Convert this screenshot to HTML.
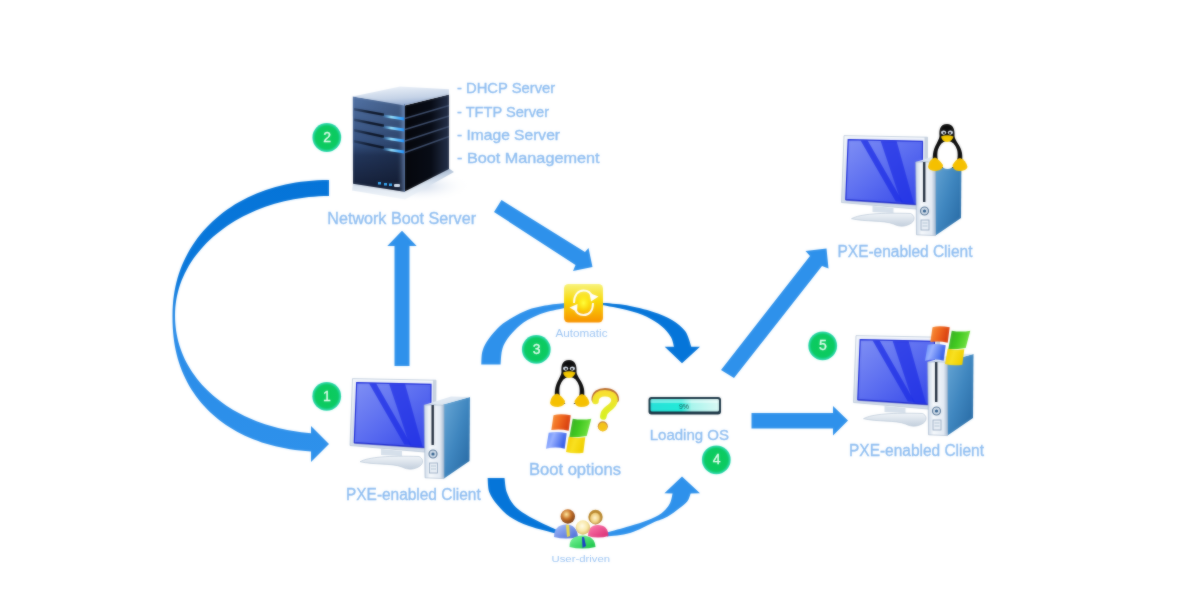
<!DOCTYPE html>
<html><head><meta charset="utf-8"><style>
html,body{margin:0;padding:0;background:#fff;width:1200px;height:600px;overflow:hidden}
svg{display:block}
</style></head><body>
<svg width="1200" height="600" viewBox="0 0 1200 600">
<defs>
<filter id="soft" x="0" y="0" width="1200" height="600" filterUnits="userSpaceOnUse" color-interpolation-filters="sRGB">
 <feGaussianBlur in="SourceGraphic" stdDeviation="0.9" result="b"/>
 <feComposite in="SourceGraphic" in2="b" operator="arithmetic" k1="0" k2="0.5" k3="0.5" k4="0"/>
</filter>
<radialGradient id="badgeG" cx="0.5" cy="0.5" r="0.5">
 <stop offset="0" stop-color="#0acb5a"/><stop offset="0.78" stop-color="#0cca62"/><stop offset="1" stop-color="#2cd8b4"/>
</radialGradient>
<linearGradient id="gLeft" x1="0" y1="180" x2="0" y2="460" gradientUnits="userSpaceOnUse">
 <stop offset="0" stop-color="#0574d8"/><stop offset="0.35" stop-color="#0a78db"/><stop offset="0.55" stop-color="#2a8ce8"/><stop offset="1" stop-color="#2e91eb"/>
</linearGradient>

<linearGradient id="srvFront" x1="0" y1="0" x2="0" y2="1">
 <stop offset="0" stop-color="#5272a4"/><stop offset="0.5" stop-color="#34507e"/><stop offset="0.62" stop-color="#22355a"/><stop offset="1" stop-color="#141e36"/>
</linearGradient>
<linearGradient id="srvFrontH" x1="0" y1="0" x2="1" y2="0">
 <stop offset="0" stop-color="#000" stop-opacity="0"/><stop offset="0.85" stop-color="#000" stop-opacity="0.15"/><stop offset="1" stop-color="#8fb0e0" stop-opacity="0.5"/>
</linearGradient>
<linearGradient id="srvTop" x1="0" y1="0" x2="0.3" y2="1">
 <stop offset="0" stop-color="#f0f5fb"/><stop offset="0.7" stop-color="#c4d2e6"/><stop offset="1" stop-color="#9fb4d6"/>
</linearGradient>
<linearGradient id="srvSide" x1="0" y1="0" x2="1" y2="0">
 <stop offset="0" stop-color="#05070c"/><stop offset="0.6" stop-color="#080c16"/><stop offset="1" stop-color="#24304a"/>
</linearGradient>
<radialGradient id="srvBase" cx="0.5" cy="0.5" r="0.5">
 <stop offset="0" stop-color="#b8c8e0"/><stop offset="1" stop-color="#fff" stop-opacity="0"/>
</radialGradient>
<linearGradient id="srvPlate" x1="0" y1="0" x2="0" y2="1">
 <stop offset="0" stop-color="#aebfd6"/><stop offset="0.5" stop-color="#d8e2ee"/><stop offset="1" stop-color="#f2f6fa"/>
</linearGradient>
<linearGradient id="groove" x1="0" y1="0" x2="1" y2="0">
 <stop offset="0" stop-color="#0c1424" stop-opacity="0.35"/><stop offset="0.5" stop-color="#0c1424" stop-opacity="0.9"/><stop offset="1" stop-color="#0c1424"/>
</linearGradient>
<linearGradient id="blueHL" x1="0" y1="0" x2="1" y2="0">
 <stop offset="0" stop-color="#3aa8ff" stop-opacity="0"/><stop offset="0.4" stop-color="#9be4ff"/><stop offset="1" stop-color="#1a90ff"/>
</linearGradient>

<linearGradient id="scr" x1="0" y1="0" x2="1" y2="1">
 <stop offset="0" stop-color="#8090f4"/><stop offset="0.5" stop-color="#5a6cf0"/><stop offset="1" stop-color="#3446e8"/>
</linearGradient>
<linearGradient id="bezel" x1="0" y1="0" x2="0" y2="1">
 <stop offset="0" stop-color="#f4f7fb"/><stop offset="1" stop-color="#cdd8e6"/>
</linearGradient>
<linearGradient id="towSide" x1="0" y1="0" x2="1" y2="1">
 <stop offset="0" stop-color="#6aa8d6"/><stop offset="0.5" stop-color="#3f86bf"/><stop offset="1" stop-color="#2466a0"/>
</linearGradient>
<linearGradient id="towFront" x1="0" y1="0" x2="1" y2="0">
 <stop offset="0" stop-color="#c9d6e6"/><stop offset="0.3" stop-color="#f6f9fc"/><stop offset="0.8" stop-color="#e3eaf3"/><stop offset="1" stop-color="#a9bcd3"/>
</linearGradient>
<linearGradient id="stand" x1="0" y1="0" x2="0" y2="1">
 <stop offset="0" stop-color="#f0f4f8"/><stop offset="1" stop-color="#c3cfdd"/>
</linearGradient>

<linearGradient id="wO" x1="0" y1="0" x2="1" y2="0.3">
 <stop offset="0" stop-color="#f89840"/><stop offset="0.5" stop-color="#f06a20"/><stop offset="1" stop-color="#d84010"/>
</linearGradient>
<linearGradient id="wG" x1="0" y1="0" x2="1" y2="0.3">
 <stop offset="0" stop-color="#38a828"/><stop offset="0.5" stop-color="#40c820"/><stop offset="1" stop-color="#70e040"/>
</linearGradient>
<linearGradient id="wB" x1="0" y1="0" x2="1" y2="0.3">
 <stop offset="0" stop-color="#5c88f8"/><stop offset="0.4" stop-color="#98b0ff"/><stop offset="1" stop-color="#3860e8"/>
</linearGradient>
<linearGradient id="wY" x1="0" y1="0" x2="1" y2="0.3">
 <stop offset="0" stop-color="#f0c800"/><stop offset="0.5" stop-color="#f8e020"/><stop offset="1" stop-color="#f0d000"/>
</linearGradient>
<linearGradient id="qG" x1="0" y1="0" x2="0" y2="1">
 <stop offset="0" stop-color="#f8e030"/><stop offset="1" stop-color="#d8f020"/>
</linearGradient>
<linearGradient id="autoG" x1="0" y1="0" x2="0" y2="1">
 <stop offset="0" stop-color="#f7f27a"/><stop offset="0.45" stop-color="#f8d808"/><stop offset="1" stop-color="#f89200"/>
</linearGradient>
<radialGradient id="autoGlow" cx="0.5" cy="0.5" r="0.5">
 <stop offset="0" stop-color="#ffff40"/><stop offset="1" stop-color="#ffe000" stop-opacity="0"/>
</radialGradient>
<linearGradient id="barG" x1="0" y1="0" x2="1" y2="0">
 <stop offset="0" stop-color="#28e0d8"/><stop offset="0.45" stop-color="#22ead8"/><stop offset="0.6" stop-color="#a8f4ec"/><stop offset="1" stop-color="#d8f8f4"/>
</linearGradient>
<radialGradient id="headG" cx="0.4" cy="0.35" r="0.65">
 <stop offset="0" stop-color="#ffe8a0"/><stop offset="0.5" stop-color="#c8742a"/><stop offset="1" stop-color="#7a3a10"/>
</radialGradient>
<radialGradient id="headY" cx="0.45" cy="0.4" r="0.6">
 <stop offset="0" stop-color="#fffbe8"/><stop offset="0.6" stop-color="#f8e8a8"/><stop offset="1" stop-color="#d8b860"/>
</radialGradient>
<radialGradient id="headP" cx="0.45" cy="0.45" r="0.6">
 <stop offset="0" stop-color="#fff4d0"/><stop offset="0.6" stop-color="#f0d080"/><stop offset="1" stop-color="#a87830"/>
</radialGradient>
<linearGradient id="shirtB" x1="0" y1="0" x2="1" y2="1">
 <stop offset="0" stop-color="#a8c0f8"/><stop offset="1" stop-color="#4868d8"/>
</linearGradient>
<linearGradient id="shirtP" x1="0" y1="0" x2="1" y2="1">
 <stop offset="0" stop-color="#ff80b0"/><stop offset="1" stop-color="#d82870"/>
</linearGradient>
<linearGradient id="shirtG" x1="0" y1="0" x2="1" y2="1">
 <stop offset="0" stop-color="#80f8a0"/><stop offset="1" stop-color="#10c040"/>
</linearGradient>

<g id="client">
 <!-- monitor bezel -->
 <polygon points="2.5,0.6 86,2.2 85.5,75 0,67.5" fill="url(#bezel)" stroke="#b9c7d8" stroke-width="0.8"/>
 <polygon points="6.7,4.6 81,6.3 80.5,69.5 4.3,64.5" fill="url(#scr)" stroke="#1a2ad8" stroke-width="1.2"/>
 <polygon points="19,5.2 26,5.3 61.3,67 54.3,66.5" fill="#1e2ee4" opacity="0.75"/>
 <polygon points="39,5.5 55,5.8 72.6,69 60,68" fill="#1e2ee4" opacity="0.7"/>
 <polygon points="4.3,64.5 80.5,69.5 80.5,70.7 4,65.8" fill="#1520b8" opacity="0.6"/>
 <!-- stand -->
 <polygon points="31,71 52,73 52,78 31,77" fill="#d5dfea"/>
 <path d="M10,83.7 C18,79 40,77.5 69,78.5 C73,80 74,85 70,88 C64,92 58,92 52,89 C42,85 24,87 10,83.7 Z" fill="url(#stand)" stroke="#b8c6d6" stroke-width="0.7"/>
 <!-- monitor edge behind tower -->
 <rect x="83" y="2" width="3" height="26" fill="#c5d0de"/>
 <!-- tower side -->
 <polygon points="93,26.5 120,19 119.5,83 94,100.6" fill="url(#towSide)"/>
 <polygon points="74.2,27 93,26.5 120,19 101,18.5" fill="#dfe8f2"/>
 <!-- tower front -->
 <polygon points="74.2,27 94,27 94,100.6 75,99.8" fill="url(#towFront)" stroke="#9fb2c8" stroke-width="0.6"/>
 <rect x="81.5" y="27" width="2.4" height="40" fill="#1e2a3a"/>
 <circle cx="83" cy="76" r="4" fill="#cfdbe8" stroke="#5a7898" stroke-width="1.2"/>
 <circle cx="83" cy="76" r="1.6" fill="#2a5a88"/>
 <rect x="79.5" y="85" width="8" height="10" fill="#e9eff6" stroke="#8ea4bc" stroke-width="0.8"/>
 <line x1="81" y1="88" x2="86" y2="88" stroke="#8ea4bc" stroke-width="0.6"/>
 <line x1="81" y1="91" x2="86" y2="91" stroke="#8ea4bc" stroke-width="0.6"/>
</g>

<g id="tux">
 <path d="M19,0 C12,0 11,6 11.5,12 C11,17 6,22 5,30 C4,37 6,42 10,44 L30,44 C34,42 35,36 34,29 C33,22 27,17 26.5,12 C27,5 25,0 19,0 Z" fill="#0c0c0c"/>
 <ellipse cx="19.5" cy="31" rx="10.2" ry="14" fill="#fff"/>
 <ellipse cx="15.6" cy="8.6" rx="2.6" ry="2.1" fill="#dde6f2"/>
 <ellipse cx="22.4" cy="8.6" rx="2.6" ry="2.1" fill="#dde6f2"/>
 <circle cx="16" cy="9" r="1" fill="#111"/>
 <circle cx="22" cy="9" r="1" fill="#111"/>
 <path d="M13,12.5 Q19,10 25.5,12.5 Q24,17.5 19,18 Q14,17.5 13,12.5 Z" fill="#f4c800"/>
 <path d="M0,43 Q1,35 7,33.5 Q11,35 15,41 Q15.5,46 8,47 Q1,47 0,43 Z" fill="#f5c000"/>
 <path d="M24.5,41 Q28,35 32,34 Q38,36 39.5,43 Q38.5,47 31,47 Q24.5,46.5 24.5,41 Z" fill="#f5c000"/>
</g>

<g id="winflag">
 <path d="M7.5,2.3 Q14,0 24.7,2.3 L22.7,17.7 Q14,15.5 5.3,17 Z" fill="url(#wO)"/>
 <path d="M26.7,5.7 Q36,7.5 45.3,5.7 L40.7,23 Q32,24.5 23.3,24.3 Z" fill="url(#wG)"/>
 <path d="M2.7,19.7 Q11,18 20.7,20.3 L18.7,35.7 Q10,33.5 0,35.7 Z" fill="url(#wB)"/>
 <path d="M22.7,23.7 Q31,25.5 39.3,24.3 L37.3,39.7 Q28,41 20,39 Z" fill="url(#wY)"/>
</g>
</defs>
<rect width="1200" height="600" fill="#fff"/>
<g filter="url(#soft)">
<rect width="1200" height="600" fill="#fff"/>
<path d="M329.00,180.00 L322.92,180.09 L317.20,180.31 L311.65,180.67 L306.22,181.17 L300.89,181.80 L295.64,182.57 L290.48,183.47 L285.39,184.51 L280.38,185.67 L275.46,186.97 L270.61,188.40 L265.85,189.96 L261.17,191.65 L256.58,193.46 L252.09,195.40 L247.68,197.46 L243.37,199.64 L239.16,201.94 L235.06,204.36 L231.06,206.90 L227.17,209.55 L223.39,212.30 L219.72,215.17 L216.17,218.15 L212.75,221.22 L209.44,224.40 L206.27,227.68 L203.22,231.05 L200.30,234.52 L197.52,238.08 L194.88,241.73 L192.37,245.46 L190.00,249.28 L187.78,253.17 L185.70,257.14 L183.77,261.19 L181.98,265.32 L180.35,269.51 L178.87,273.77 L177.54,278.11 L176.36,282.51 L175.34,286.98 L174.47,291.52 L173.76,296.14 L173.21,300.84 L172.82,305.65 L172.58,310.62 L172.50,316.00 L172.57,322.16 L172.77,327.41 L173.10,332.35 L173.56,337.09 L174.16,341.69 L174.88,346.16 L175.74,350.53 L176.73,354.79 L177.85,358.97 L179.10,363.07 L180.48,367.08 L181.99,371.00 L183.62,374.85 L185.38,378.62 L187.26,382.30 L189.27,385.91 L191.39,389.43 L193.64,392.87 L196.01,396.23 L198.50,399.50 L201.11,402.69 L203.83,405.79 L206.66,408.80 L209.61,411.72 L212.67,414.55 L215.84,417.28 L219.11,419.92 L222.49,422.47 L225.98,424.92 L229.57,427.27 L233.25,429.52 L237.04,431.67 L240.93,433.72 L244.91,435.66 L248.99,437.50 L253.17,439.24 L257.43,440.86 L261.79,442.38 L266.25,443.79 L270.80,445.09 L275.44,446.29 L280.18,447.37 L285.01,448.33 L289.96,449.19 L295.01,449.93 L300.19,450.56 L305.51,451.08 L311.00,451.48 L311.00,462.00 L329.00,444.00 L311.00,426.00 L311.00,433.27 L306.14,432.83 L301.34,432.28 L296.60,431.62 L291.91,430.87 L287.29,430.01 L282.72,429.05 L278.20,427.98 L273.75,426.82 L269.37,425.56 L265.05,424.19 L260.80,422.73 L256.62,421.18 L252.51,419.53 L248.49,417.78 L244.54,415.94 L240.67,414.01 L236.90,412.00 L233.20,409.89 L229.61,407.70 L226.10,405.42 L222.69,403.06 L219.38,400.62 L216.18,398.11 L213.08,395.51 L210.08,392.84 L207.19,390.10 L204.42,387.28 L201.76,384.40 L199.21,381.45 L196.79,378.44 L194.48,375.37 L192.29,372.23 L190.23,369.04 L188.29,365.79 L186.48,362.49 L184.80,359.13 L183.25,355.73 L181.83,352.28 L180.54,348.78 L179.38,345.24 L178.36,341.66 L177.47,338.03 L176.72,334.36 L176.10,330.64 L175.62,326.87 L175.27,323.05 L175.07,319.13 L175.00,315.00 L175.08,311.12 L175.33,307.25 L175.74,303.38 L176.32,299.53 L177.05,295.69 L177.95,291.88 L179.02,288.09 L180.24,284.32 L181.62,280.59 L183.16,276.90 L184.85,273.25 L186.70,269.64 L188.70,266.08 L190.86,262.57 L193.16,259.12 L195.60,255.72 L198.19,252.39 L200.91,249.13 L203.78,245.93 L206.78,242.81 L209.91,239.77 L213.16,236.80 L216.54,233.92 L220.05,231.13 L223.66,228.42 L227.39,225.81 L231.23,223.29 L235.18,220.86 L239.23,218.54 L243.37,216.32 L247.60,214.21 L251.92,212.20 L256.33,210.30 L260.81,208.51 L265.37,206.84 L269.99,205.28 L274.68,203.84 L279.43,202.51 L284.23,201.31 L289.08,200.22 L293.97,199.26 L298.90,198.42 L303.87,197.70 L308.86,197.11 L313.87,196.65 L318.91,196.31 L323.95,196.09 L329.00,196.00 Z" fill="url(#gLeft)"/>
<polygon points="394.5,366 409.5,366 409.5,246 416.7,246 402,230.7 387.3,246 394.5,246" fill="#2e91eb"/>
<polygon points="501.5,200 585,252 588.5,248 592.5,267 573,271 575.5,265 494,212" fill="#2e91eb"/>
<path d="M481.25,364.4 C481.5,362.2 481.2,355.3 482.5,351.0 C483.8,346.7 485.8,342.9 488.8,338.8 C491.7,334.6 496.0,329.5 500.0,326.0 C504.0,322.5 507.9,320.2 512.5,317.5 C517.1,314.8 522.1,312.0 527.5,310.0 C532.9,308.0 538.8,306.8 545.0,305.6 C551.2,304.4 561.7,303.4 565.0,303.0 L565,308 C561.7,308.8 551.2,310.5 545.0,312.5 C538.8,314.5 532.5,317.1 527.5,320.0 C522.5,322.9 518.6,326.5 515.0,330.0 C511.4,333.5 508.2,337.5 506.0,341.0 C503.8,344.5 502.8,347.1 501.9,351.0 C501.0,354.9 500.8,362.2 500.6,364.4 Z" fill="#2e91eb"/>
<path d="M602,302.7 C606.1,303.1 618.2,303.8 626.7,305.3 C635.2,306.9 645.8,309.6 653.3,312.0 C660.8,314.4 666.7,316.8 672.0,320.0 C677.3,323.2 682.1,326.9 685.3,331.3 C688.5,335.8 690.3,344.1 691.3,346.7 L700,346.7 L682,363.3 L664.7,346.7 L674,346.7 C673.5,345.0 672.8,340.1 670.7,336.7 C668.6,333.2 665.3,329.3 661.3,326.0 C657.3,322.7 652.5,319.4 646.7,316.7 C640.9,314.0 634.2,311.9 626.7,310.0 C619.2,308.1 606.1,305.8 602.0,305.0 Z" fill="#0575d9"/>
<path d="M487.6,478 C487.9,480.4 487.7,487.7 489.3,492.2 C490.9,496.7 494.1,500.9 497.5,505.0 C500.9,509.1 504.6,513.2 509.8,516.7 C515.0,520.2 521.3,523.2 529.0,526.0 C536.7,528.8 551.5,532.2 556.0,533.5 L556,529.5 C553.5,528.3 545.8,525.0 540.7,522.5 C535.6,520.0 530.0,517.2 525.5,514.3 C521.0,511.4 516.9,508.7 513.8,505.0 C510.7,501.3 508.4,496.7 506.8,492.2 C505.2,487.7 504.9,480.4 504.5,478.0 Z" fill="#0575d9"/>
<path d="M607,536.5 C610.8,535.9 622.3,535.3 630.0,533.0 C637.7,530.7 647.1,525.2 653.3,522.5 C659.5,519.8 663.0,519.0 667.3,516.7 C671.6,514.4 675.7,511.0 679.0,508.5 C682.3,506.0 685.2,504.0 687.2,501.5 C689.2,499.0 690.1,494.8 690.7,493.5 L700,493.3 L682,476.4 L664.4,493.3 L672.6,493.5 C672.1,495.2 671.6,500.5 669.7,503.8 C667.9,507.1 665.2,510.5 661.5,513.2 C657.8,515.9 652.8,518.1 647.5,520.2 C642.2,522.3 636.8,524.0 630.0,526.0 C623.2,528.0 610.8,531.4 607.0,532.5 Z" fill="#2e91eb"/>
<polygon points="721,370 734,378 822,266 828.5,268.5 826.5,248.5 805.5,251 810,256" fill="#2e91eb"/>
<polygon points="751.5,413 833,413 833,406 848,420.5 833,435.5 833,428.5 751.5,428.5" fill="#2e91eb"/>
<circle cx="326.8" cy="137.5" r="14.4" fill="url(#badgeG)"/>
<text x="327.1" y="141.8" font-family="Liberation Sans" font-size="14" fill="#eafff4" stroke="#eafff4" stroke-width="0.3" text-anchor="middle">2</text>
<circle cx="326.7" cy="396.3" r="14.4" fill="url(#badgeG)"/>
<text x="327.0" y="400.6" font-family="Liberation Sans" font-size="14" fill="#eafff4" stroke="#eafff4" stroke-width="0.3" text-anchor="middle">1</text>
<circle cx="536.3" cy="349.4" r="14.4" fill="url(#badgeG)"/>
<text x="536.5999999999999" y="353.7" font-family="Liberation Sans" font-size="14" fill="#eafff4" stroke="#eafff4" stroke-width="0.3" text-anchor="middle">3</text>
<circle cx="716.3" cy="459.8" r="14.4" fill="url(#badgeG)"/>
<text x="716.5999999999999" y="464.1" font-family="Liberation Sans" font-size="14" fill="#eafff4" stroke="#eafff4" stroke-width="0.3" text-anchor="middle">4</text>
<circle cx="822.7" cy="345.8" r="14.4" fill="url(#badgeG)"/>
<text x="823.0" y="350.1" font-family="Liberation Sans" font-size="14" fill="#eafff4" stroke="#eafff4" stroke-width="0.3" text-anchor="middle">5</text>
<text x="457" y="92.7" font-family="Liberation Sans" font-size="14.5" fill="#8cbcf0" stroke="#8cbcf0" stroke-width="0.35" textLength="98.2" lengthAdjust="spacingAndGlyphs" >- DHCP Server</text>
<text x="457" y="116.5" font-family="Liberation Sans" font-size="14.5" fill="#8cbcf0" stroke="#8cbcf0" stroke-width="0.35" textLength="92" lengthAdjust="spacingAndGlyphs" >- TFTP Server</text>
<text x="457" y="140" font-family="Liberation Sans" font-size="14.5" fill="#8cbcf0" stroke="#8cbcf0" stroke-width="0.35" textLength="103" lengthAdjust="spacingAndGlyphs" >- Image Server</text>
<text x="457" y="162.8" font-family="Liberation Sans" font-size="14.5" fill="#8cbcf0" stroke="#8cbcf0" stroke-width="0.35" textLength="142.5" lengthAdjust="spacingAndGlyphs" >- Boot Management</text>
<text x="327.3" y="224" font-family="Liberation Sans" font-size="16" fill="#8cbcf0" stroke="#8cbcf0" stroke-width="0.35" textLength="148.7" lengthAdjust="spacingAndGlyphs" >Network Boot Server</text>
<text x="346" y="500.2" font-family="Liberation Sans" font-size="16" fill="#8cbcf0" stroke="#8cbcf0" stroke-width="0.35" textLength="134.7" lengthAdjust="spacingAndGlyphs" >PXE-enabled Client</text>
<text x="837.5" y="256.5" font-family="Liberation Sans" font-size="16" fill="#8cbcf0" stroke="#8cbcf0" stroke-width="0.35" textLength="135" lengthAdjust="spacingAndGlyphs" >PXE-enabled Client</text>
<text x="849" y="455.5" font-family="Liberation Sans" font-size="16" fill="#8cbcf0" stroke="#8cbcf0" stroke-width="0.35" textLength="135" lengthAdjust="spacingAndGlyphs" >PXE-enabled Client</text>
<text x="529" y="474.5" font-family="Liberation Sans" font-size="16" fill="#8cbcf0" stroke="#8cbcf0" stroke-width="0.35" textLength="92" lengthAdjust="spacingAndGlyphs" >Boot options</text>
<text x="649.7" y="439.5" font-family="Liberation Sans" font-size="15.5" fill="#8cbcf0" stroke="#8cbcf0" stroke-width="0.35" textLength="79.3" lengthAdjust="spacingAndGlyphs" >Loading OS</text>
<text x="555.5" y="336.7" font-family="Liberation Sans" font-size="10" fill="#9cc4f2" stroke="#9cc4f2" stroke-width="0" textLength="52" lengthAdjust="spacingAndGlyphs" >Automatic</text>
<text x="551.5" y="562" font-family="Liberation Sans" font-size="9" fill="#9cc4f2" stroke="#9cc4f2" stroke-width="0" textLength="58.5" lengthAdjust="spacingAndGlyphs" >User-driven</text>
<!-- ===== server ===== -->
<ellipse cx="420" cy="186" rx="50" ry="16" fill="url(#srvBase)" opacity="0.7"/>
<polygon points="353,183 404.3,191 449,168.5 454,172 405,199.5 352,190.5" fill="url(#srvPlate)"/>
<polygon points="352.8,96.5 404.6,104.3 404.3,191.7 353,183.7" fill="url(#srvFront)"/>
<polygon points="352.8,96.5 404.6,104.3 404.3,191.7 353,183.7" fill="url(#srvFrontH)"/>
<polygon points="404.6,105.5 449,94.5 449,169 404.3,191.7" fill="url(#srvSide)"/>
<polygon points="352.8,96.5 400,86.4 449,89.2 449,94.5 404.6,105.5" fill="url(#srvTop)"/>
<g>
 <polygon points="354,108 384,113.5 384,116 354,110.5" fill="url(#groove)"/>
 <polygon points="354,118.5 384,124.5 384,127 354,121" fill="url(#groove)"/>
 <polygon points="354,129 384,135.5 384,138 354,131.5" fill="url(#groove)"/>
 <polygon points="354,140 384,146.5 384,149 354,142.5" fill="url(#groove)"/>
</g>
<polygon points="382,114.5 404.5,117.5 404.5,120.5 382,117" fill="url(#blueHL)"/>
<polygon points="382,125.5 404.5,128.5 404.5,131.5 382,128" fill="url(#blueHL)"/>
<polygon points="382,136.5 404.5,139.5 404.5,142.5 382,139" fill="url(#blueHL)"/>
<polygon points="382,147.5 404.5,150.5 404.5,153.5 382,150" fill="url(#blueHL)"/>
<g stroke="#3e4e6c" stroke-width="1.4">
 <line x1="405" y1="118.5" x2="449" y2="105.5"/>
 <line x1="405" y1="129.5" x2="449" y2="116"/>
 <line x1="405" y1="141" x2="449" y2="126.5"/>
 <line x1="405" y1="152.5" x2="449" y2="136.5"/>
</g>
<line x1="404.5" y1="104" x2="404.5" y2="192" stroke="#5a78a8" stroke-width="0.8"/>
<rect x="378" y="182" width="3" height="2.5" fill="#3ab0ff"/>
<rect x="384" y="183" width="3" height="2.5" fill="#3ab0ff"/>
<rect x="389" y="183.5" width="3" height="2.5" fill="#3ab0ff"/>
<rect x="394" y="184" width="6" height="3" rx="1" fill="#d8e4f4"/>

<!-- ===== clients ===== -->
<use href="#client" x="350" y="378"/>
<use href="#client" x="841.5" y="135"/>
<use href="#client" x="853.5" y="335"/>

<!-- ===== tux ===== -->
<use href="#tux" x="928" y="124"/>
<use href="#tux" x="550" y="360"/>

<!-- ===== windows flags ===== -->
<use href="#winflag" x="925" y="325"/>
<use href="#winflag" x="546" y="413"/>

<!-- ===== question mark ===== -->
<path d="M594.5,399.5 C594.5,393.5 599,391 605,391 C612,391 616,394.5 616,399.5" fill="none" stroke="#b86a30" stroke-width="6" stroke-linecap="round"/>
<path d="M595.5,401 C595.5,395.5 599.5,393.2 605,393.2 C611,393.2 614.5,396 614.5,400.3 C614.5,404.3 611,406.8 607.8,409 C605,411 603.5,412.8 603.3,416.5" fill="none" stroke="url(#qG)" stroke-width="6.6" stroke-linecap="round"/>
<circle cx="602.8" cy="426.3" r="5" fill="#c8802a"/>
<circle cx="602.8" cy="427" r="4.4" fill="#f4c418"/>

<!-- ===== automatic icon ===== -->
<rect x="564" y="284" width="39" height="38.5" rx="4.5" fill="url(#autoG)"/>
<ellipse cx="583.5" cy="303" rx="10" ry="12" fill="url(#autoGlow)"/>
<path d="M574,303 C574,295 578,290.5 583.5,290.5 C588,290.5 591,293 592,297" fill="none" stroke="#fff" stroke-width="2"/>
<polygon points="589.5,293 598.5,296.5 591,301.5" fill="#fff"/>
<path d="M593,303 C593,311 589,315 583.5,315 C579,315 576,312.5 575,308" fill="none" stroke="#fff" stroke-width="2"/>
<polygon points="577.5,304 569.5,307.5 577,312" fill="#fff"/>

<!-- ===== loading bar ===== -->
<rect x="648.5" y="397" width="72.5" height="17.5" rx="3" fill="#163040"/>
<rect x="650.5" y="399" width="68.5" height="12.5" rx="1.5" fill="url(#barG)"/>
<rect x="650.5" y="399" width="68.5" height="4" rx="1" fill="#fff" opacity="0.35"/>
<text x="684" y="409" font-family="Liberation Sans" font-size="7" fill="#205858" text-anchor="middle">9%</text>

<!-- ===== users ===== -->
<path d="M554,537 Q554,525 566,524.5 Q577,524.5 578,537 Q566,540 554,537 Z" fill="url(#shirtB)"/>
<polygon points="566,525 569,525 570,536 567,537" fill="#e8d848"/>
<circle cx="567.8" cy="516.5" r="7.2" fill="url(#headG)"/>
<path d="M588,536 Q588,525 598,525 Q608,525 608.5,536 Q598,539 588,536 Z" fill="url(#shirtP)"/>
<circle cx="595.5" cy="517" r="7.2" fill="#b8862a"/>
<ellipse cx="595.5" cy="518.5" rx="5.5" ry="6" fill="url(#headP)"/>
<path d="M569.5,547 Q569,536 582.5,535.5 Q595,536 595.5,547 Q582,550 569.5,547 Z" fill="url(#shirtG)"/>
<polygon points="582,537 584,537 586,546 582.5,548" fill="#1a3cc8"/>
<circle cx="582.9" cy="527.5" r="7.2" fill="url(#headY)"/>

</g>
</svg>
</body></html>
